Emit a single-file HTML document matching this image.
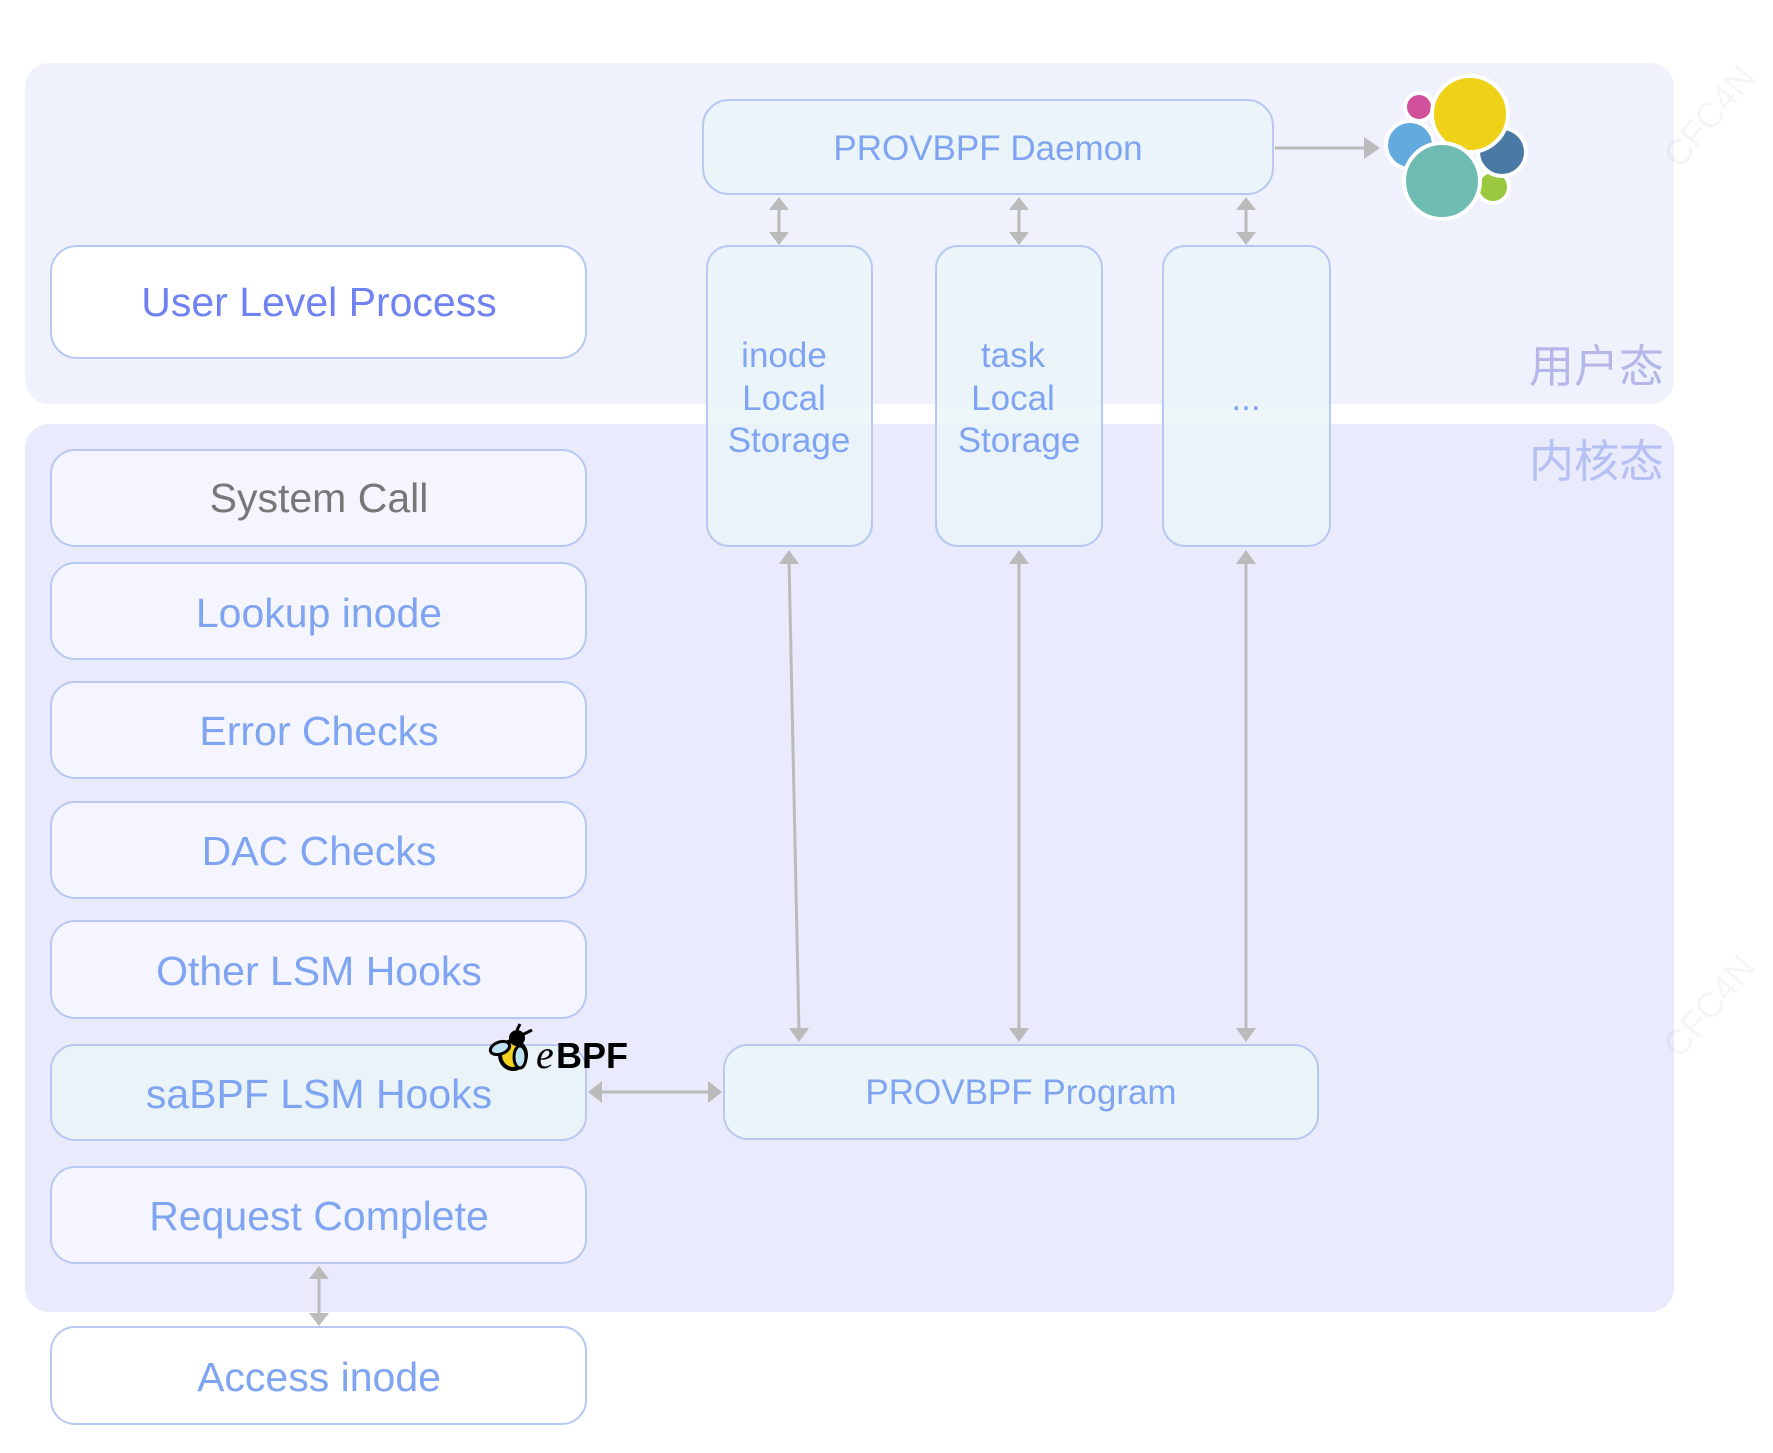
<!DOCTYPE html>
<html><head><meta charset="utf-8"><style>html,body{margin:0;padding:0;background:#fff}svg{display:block}</style></head>
<body>
<svg width="1773" height="1453" viewBox="0 0 1773 1453" xmlns="http://www.w3.org/2000/svg" font-family="Liberation Sans, sans-serif">
<rect x="25" y="63" width="1649" height="341" rx="24" fill="#eff2fd"/>
<rect x="25" y="424" width="1649" height="888" rx="24" fill="#e9eafc"/>
<g fill="#fff" stroke="#b7c8f2" stroke-width="2">
<rect x="51" y="246" width="535" height="112" rx="26"/>
<rect x="51" y="450" width="535" height="96" rx="24" fill="#f4f5fe"/>
<rect x="51" y="563" width="535" height="96" rx="24" fill="#f4f5fe"/>
<rect x="51" y="682" width="535" height="96" rx="24" fill="#f4f5fe"/>
<rect x="51" y="802" width="535" height="96" rx="24" fill="#f4f5fe"/>
<rect x="51" y="921" width="535" height="97" rx="24" fill="#f4f5fe"/>
<rect x="51" y="1045" width="535" height="95" rx="24" fill="#e9f3f8"/>
<rect x="51" y="1167" width="535" height="96" rx="24" fill="#f4f5fe"/>
<rect x="51" y="1327" width="535" height="97" rx="24"/>
<rect x="703" y="100" width="570" height="94" rx="26" fill="#ebf4f8"/>
<rect x="707" y="246" width="165" height="300" rx="22" fill="#eaf4f8" fill-opacity="0.85"/>
<rect x="936" y="246" width="166" height="300" rx="22" fill="#eaf4f8" fill-opacity="0.85"/>
<rect x="1163" y="246" width="167" height="300" rx="22" fill="#eaf4f8" fill-opacity="0.85"/>
<rect x="724" y="1045" width="594" height="94" rx="24" fill="#ebf4f8"/>
</g>
<g font-size="41" text-anchor="middle" fill="#7fa4f2">
<text x="319" y="316" fill="#6f82ef">User Level Process</text>
<text x="319" y="512" fill="#777">System Call</text>
<text x="319" y="627">Lookup inode</text>
<text x="319" y="745">Error Checks</text>
<text x="319" y="865">DAC Checks</text>
<text x="319" y="985">Other LSM Hooks</text>
<text x="319" y="1108">saBPF LSM Hooks</text>
<text x="319" y="1230">Request Complete</text>
<text x="319" y="1391">Access inode</text>
</g>
<g font-size="35" text-anchor="middle" fill="#7fa4f2">
<text x="988" y="160">PROVBPF Daemon</text>
<text x="1021" y="1104">PROVBPF Program</text>
<text x="784" y="367">inode</text>
<text x="784" y="410">Local</text>
<text x="789" y="452">Storage</text>
<text x="1013" y="367">task</text>
<text x="1013" y="410">Local</text>
<text x="1019" y="452">Storage</text>
<text x="1246" y="410">...</text>
</g>
<g font-family="Liberation Sans, Noto Sans CJK SC, sans-serif" font-size="45" fill="#b3b8e8" text-anchor="end">
<text x="1664" y="382">用户态</text>
<text x="1664" y="477" fill="#b5c1f5">内核态</text>
</g>
<g font-size="36" fill="#000" fill-opacity="0.04">
<text transform="translate(1680,170) rotate(-50)">CFC4N</text>
<text transform="translate(1680,1060) rotate(-50)">CFC4N</text>
</g>
<g stroke="#bbbbbb" stroke-width="3" fill="#bbbbbb">
<line x1="779" y1="208" x2="779" y2="234"/><path d="M769,210 L779,197 L789,210Z M769,232 L779,245 L789,232Z" stroke="none"/>
<line x1="1019" y1="208" x2="1019" y2="234"/><path d="M1009,210 L1019,197 L1029,210Z M1009,232 L1019,245 L1029,232Z" stroke="none"/>
<line x1="1246" y1="208" x2="1246" y2="234"/><path d="M1236,210 L1246,197 L1256,210Z M1236,232 L1246,245 L1256,232Z" stroke="none"/>
<line x1="789" y1="560" x2="799" y2="1032"/><path d="M779,564 L789,550 L799,564Z M789,1028 L799,1042 L809,1028Z" stroke="none"/>
<line x1="1019" y1="560" x2="1019" y2="1032"/><path d="M1009,564 L1019,550 L1029,564Z M1009,1028 L1019,1042 L1029,1028Z" stroke="none"/>
<line x1="1246" y1="560" x2="1246" y2="1032"/><path d="M1236,564 L1246,550 L1256,564Z M1236,1028 L1246,1042 L1256,1028Z" stroke="none"/>
<line x1="598" y1="1092" x2="712" y2="1092"/><path d="M602,1081 L588,1092 L602,1103Z M708,1081 L722,1092 L708,1103Z" stroke="none"/>
<line x1="319" y1="1276" x2="319" y2="1316"/><path d="M309,1279 L319,1266 L329,1279Z M309,1313 L319,1326 L329,1313Z" stroke="none"/>
<line x1="1275" y1="148" x2="1368" y2="148"/><path d="M1364,137 L1380,148 L1364,159Z" stroke="none"/>
</g>
<g stroke="#fff" stroke-width="4">
<circle cx="1419" cy="107" r="14" fill="#d1509b"/>
<circle cx="1410" cy="145" r="24" fill="#63aadf"/>
<circle cx="1493" cy="187" r="16" fill="#9ac83e"/>
<circle cx="1502" cy="152" r="24" fill="#4a7aa3"/>
<circle cx="1470" cy="114" r="38" fill="#efd118"/>
<circle cx="1442" cy="181" r="38" fill="#6fbdb2"/>
</g>
<g>
<ellipse cx="513" cy="1055" rx="13" ry="14" fill="#f2d21c" stroke="#000" stroke-width="4"/>
<ellipse cx="500" cy="1048" rx="10" ry="6" fill="#bfe2f2" stroke="#000" stroke-width="3" transform="rotate(-20 500 1048)"/>
<ellipse cx="520" cy="1057" rx="6" ry="11" fill="#bfe2f2" stroke="#000" stroke-width="3"/>
<circle cx="517" cy="1038" r="8" fill="#000"/>
<line x1="517" y1="1030" x2="520" y2="1024" stroke="#000" stroke-width="3"/>
<line x1="522" y1="1035" x2="532" y2="1030" stroke="#000" stroke-width="3"/>
<text x="536" y="1068" font-size="40" font-style="italic" font-family="Liberation Serif, serif" fill="#000">e</text>
<text x="556" y="1068" font-size="36" font-weight="bold" fill="#000">BPF</text>
</g>
</svg>
</body></html>
